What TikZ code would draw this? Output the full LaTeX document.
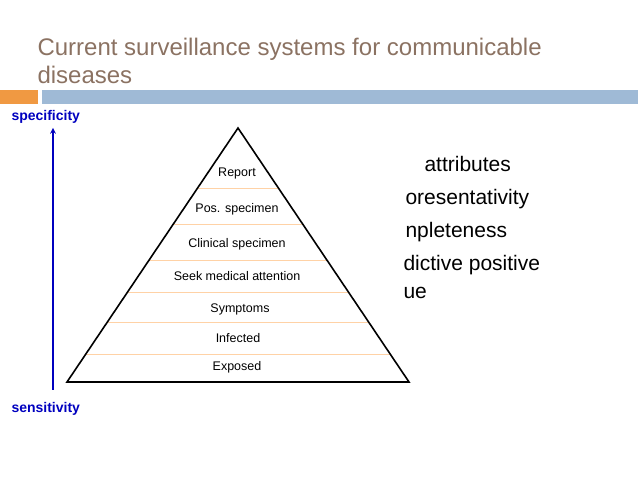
\documentclass[tikz,border=0pt]{standalone}
\usepackage{fontspec}
\setmainfont{Liberation Sans}
\begin{document}
\begin{tikzpicture}[x=1pt,y=-1pt,
  lvl/.style={font=\fontsize{12.5}{14}\selectfont},
  rt/.style={anchor=west,font=\fontsize{21}{24}\selectfont},
  sep/.style={draw=orange!35,line width=0.8pt},
  axl/.style={font=\bfseries\fontsize{14}{16}\selectfont,text=blue!75!black,anchor=west}]
\useasboundingbox (0,0) rectangle (638,478);
\definecolor{ttl}{HTML}{8B7262}
\definecolor{barb}{HTML}{9FBAD6}
\node[anchor=west,text=ttl,font=\fontsize{24}{28}\selectfont,align=left] (title) at (34,61) {Current surveillance systems for communicable\\diseases};
\fill[orange!70!brown!80] (0,90) rectangle (38,104);
\fill[barb] (42,90) rectangle (638,104);
\node[axl] (spec) at (8,117) {specificity};
\node[axl] (sens) at (8,409) {sensitivity};
\coordinate (bot) at (53,390);
\coordinate (top) at (53,128);
\draw[blue!75!black,line width=1.5pt,-stealth] (bot) -- (top);
\foreach \y in {188,224,260,292,322,354}{
  \pgfmathsetmacro\dx{(\y-128)/254*171}
  \draw[sep] (238-\dx,\y) -- (238+\dx,\y);
}
\draw[line width=1.6pt,line join=miter] (238,128) -- (409,382) -- (67,382) -- cycle;
\node[lvl] (l1) at (237,173) {Report};
\node[lvl] (l2) at (237,209) {Pos. specimen};
\node[lvl] (l3) at (237,244) {Clinical specimen};
\node[lvl] (l4) at (237,276) {Seek medical attention};
\node[lvl] (l5) at (240,309) {Symptoms};
\node[lvl] (l6) at (238,338) {Infected};
\node[lvl] (l7) at (237,367) {Exposed};
\node[rt] (r1) at (421,164) {attributes};
\node[rt] (r2) at (402,199) {oresentativity};
\node[rt] (r3) at (402,232) {npleteness};
\node[rt] (r4) at (400,265) {dictive positive};
\node[rt] (r5) at (400,293) {ue};
\end{tikzpicture}
\end{document}
